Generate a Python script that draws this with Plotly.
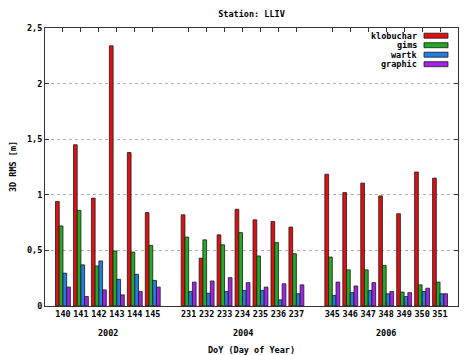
import plotly.graph_objects as go

years = ["2002", "2004", "2006"]
days = [
    ["140", "141", "142", "143", "144", "145"],
    ["231", "232", "233", "234", "235", "236", "237"],
    ["345", "346", "347", "348", "349", "350", "351"],
]
series_names = ["klobuchar", "gims", "wartk", "graphic"]
klobuchar = [0.94, 1.45, 0.97, 2.34, 1.38, 0.84,
             0.82, 0.43, 0.64, 0.87, 0.775, 0.76, 0.71,
             1.185, 1.02, 1.105, 0.99, 0.83, 1.205, 1.15]
gims = [0.72, 0.86, 0.36, 0.495, 0.485, 0.545,
        0.62, 0.595, 0.55, 0.66, 0.45, 0.57, 0.47,
        0.44, 0.325, 0.325, 0.365, 0.125, 0.19, 0.215]
wartk = [0.295, 0.37, 0.405, 0.24, 0.285, 0.23,
         0.13, 0.115, 0.13, 0.14, 0.14, 0.055, 0.11,
         0.095, 0.12, 0.14, 0.11, 0.085, 0.13, 0.11]
graphic = [0.17, 0.085, 0.145, 0.1, 0.13, 0.17,
           0.215, 0.225, 0.255, 0.21, 0.17, 0.2, 0.19,
           0.215, 0.18, 0.21, 0.13, 0.12, 0.16, 0.11]
colors = ["#dd1111", "#22aa22", "#1f7fe0", "#a322e6"]
y_ticks = [0, 0.5, 1, 1.5, 2, 2.5]
y_ticktext = ["0", "0,5", "1", "1,5", "2", "2,5"]

# positions: consecutive days, one empty slot between years
positions, labels, year_centers = [], [], []
p = 0
for grp in days:
    start = p
    for d in grp:
        positions.append(p)
        labels.append(d)
        p += 1
    year_centers.append((start + p - 1) / 2)
    p += 1

values = [klobuchar, gims, wartk, graphic]
FONT = dict(family="DejaVu Sans Mono", size=8.5, color="#000000", weight="bold")

fig = go.Figure()
for name, vals, col in zip(series_names, values, colors):
    fig.add_trace(go.Bar(x=positions, y=vals, name=name,
                         marker=dict(color=col, line=dict(color="#1a1a1a", width=0.8)),
                         showlegend=False))

OFF = 8  # page body margin
W, H = 474 - OFF, 355 - OFF
ml, mr, mt, mb = 45 - OFF, 16, 28 - OFF, 49
pw, ph = W - ml - mr, H - mt - mb

annotations = []
for yr, c in zip(years, year_centers):
    annotations.append(dict(x=c, y=-27 / ph, xref="x", yref="paper", text=yr,
                            showarrow=False, font=FONT, xanchor="center", yanchor="middle"))
annotations.append(dict(x=0.5, y=-44 / ph, xref="paper", yref="paper", text="DoY (Day of Year)",
                        showarrow=False, font=FONT, xanchor="center", yanchor="middle"))
annotations.append(dict(x=-32 / pw, y=0.5, xref="paper", yref="paper", text="3D RMS [m]",
                        textangle=-90, showarrow=False, font=FONT, xanchor="center", yanchor="middle"))

shapes = []
for i, (name, col) in enumerate(zip(series_names, colors)):
    yc = 1 - (7.7 + 9.5 * i) / ph
    annotations.append(dict(x=(419 - 45) / pw, y=yc, xref="paper", yref="paper", text=name,
                            showarrow=False, font=FONT, xanchor="right", yanchor="middle"))
    shapes.append(dict(type="rect", xref="paper", yref="paper",
                       x0=(424 - 45) / pw, x1=(448 - 45) / pw,
                       y0=yc - 2.5 / ph, y1=yc + 2.5 / ph,
                       fillcolor=col, line=dict(color="#1a1a1a", width=0.8)))

fig.update_layout(
    width=W, height=H,
    margin=dict(l=ml, r=mr, t=mt, b=mb, autoexpand=False),
    paper_bgcolor="white", plot_bgcolor="white",
    barmode="group", bargap=0.17, bargroupgap=0,
    title=dict(text="Station: LLIV", x=(ml + pw / 2) / W, xanchor="center",
               y=1 - (14 - OFF) / H, yanchor="middle", font=FONT),
    font=FONT,
    annotations=annotations,
    shapes=shapes,
    xaxis=dict(range=[-1, positions[-1] + 1], tickvals=positions, ticktext=labels,
               tickangle=0, automargin=False,
               ticks="inside", ticklen=4, tickcolor="#333", mirror="ticks",
               showline=True, linecolor="#333", linewidth=1, showgrid=False,
               zeroline=False, tickfont=FONT),
    yaxis=dict(range=[0, 2.5], tickvals=y_ticks, ticktext=y_ticktext,
               automargin=False,
               ticks="inside", ticklen=4, tickcolor="#333", mirror="ticks",
               showline=True, linecolor="#333", linewidth=1,
               showgrid=True, gridcolor="#b0b0b0", griddash="dot", gridwidth=1,
               zeroline=False, tickfont=FONT),
)

fig.write_html("out.html")
